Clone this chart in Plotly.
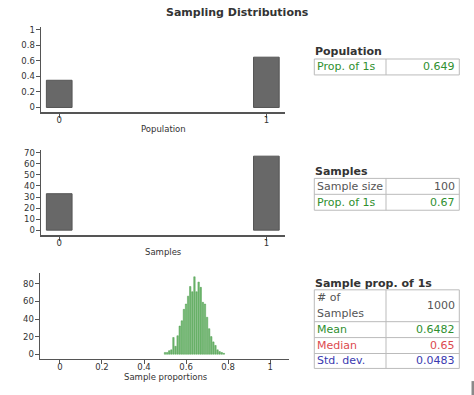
import plotly.graph_objects as go

W, H = 474, 395
FONT = "DejaVu Sans"

# ---------------- data ----------------
pop_values = [0, 1]
pop_props = [0.351, 0.649]
pop_prop_ones = 0.649

sample_values = [0, 1]
sample_counts = [33, 67]
sample_size = 100
sample_prop_ones = 0.67

hist_props = [0.50, 0.51, 0.52, 0.53, 0.54, 0.55, 0.56, 0.57, 0.58, 0.59,
              0.60, 0.61, 0.62, 0.63, 0.64, 0.65, 0.66, 0.67, 0.68, 0.69,
              0.70, 0.71, 0.72, 0.73, 0.74, 0.75, 0.76, 0.77, 0.78]
hist_counts = [2, 2, 4, 5, 19, 9, 21, 32, 38, 51,
               57, 66, 77, 71, 88, 71, 82, 76, 59, 57,
               42, 29, 20, 14, 10, 5, 3, 2, 1]
n_samples = 1000
mean_prop = 0.6482
median_prop = 0.65
sd_prop = 0.0483

# ---------------- helpers ----------------
def px(x):
    return x / W

def py(y):
    return 1 - y / H

# pixel layout of the three panels
P1 = dict(l=41, r=285, b=111, t=25, xr=[-0.088, 1.09], yr=[-0.064, 1.04])
P2 = dict(l=41, r=285, b=234.3, t=148.3, xr=[-0.088, 1.09], yr=[-4.5, 73])
P3 = dict(l=40, r=289, b=358.7, t=272.3, xr=[-0.095, 1.09], yr=[-5.3, 92.4])

def below(p, off_px):
    span = p["yr"][1] - p["yr"][0]
    return p["yr"][0] - off_px * span / (p["b"] - p["t"])

AX = "#555555"
TXT = "#333333"
GREEN = "#2f8f2f"
RED = "#dc4a4f"
BLUE = "#3a3ab0"
GRID_T = "#bbbbbb"

fig = go.Figure()

# panel 1: population
fig.add_trace(go.Bar(x=pop_values, y=pop_props, width=0.124,
                     marker=dict(color="#686868", line=dict(color="#555555", width=1)),
                     xaxis="x", yaxis="y", showlegend=False))
fig.add_trace(go.Scatter(x=[pop_prop_ones], y=[below(P1, 4.5)], mode="markers",
                         marker=dict(symbol="triangle-up", size=8, color="#0a7d0a"),
                         cliponaxis=False, xaxis="x", yaxis="y", showlegend=False))

# panel 2: samples
fig.add_trace(go.Bar(x=sample_values, y=sample_counts, width=0.124,
                     marker=dict(color="#686868", line=dict(color="#555555", width=1)),
                     xaxis="x2", yaxis="y2", showlegend=False))
fig.add_trace(go.Scatter(x=[sample_prop_ones], y=[below(P2, 4.2)], mode="markers",
                         marker=dict(symbol="triangle-up", size=8, color="#0a7d0a"),
                         cliponaxis=False, xaxis="x2", yaxis="y2", showlegend=False))

# panel 3: sampling distribution
fig.add_trace(go.Bar(x=hist_props, y=hist_counts, width=0.0068,
                     marker=dict(color="#72b872", line=dict(color="#4f9f4f", width=0.5)),
                     xaxis="x3", yaxis="y3", showlegend=False))
fig.add_trace(go.Scatter(x=[mean_prop - sd_prop, mean_prop + sd_prop],
                         y=[below(P3, 1.8)] * 2, mode="lines+markers",
                         line=dict(color="#2b2bd0", width=2),
                         marker=dict(symbol="line-ns-open", size=5, color="#2b2bd0",
                                     line=dict(color="#2b2bd0", width=1.5)),
                         cliponaxis=False, xaxis="x3", yaxis="y3", showlegend=False))
fig.add_trace(go.Scatter(x=[median_prop], y=[below(P3, 2.5)], mode="markers",
                         marker=dict(symbol="triangle-up", size=8, color="#e0584a"),
                         cliponaxis=False, xaxis="x3", yaxis="y3", showlegend=False))
fig.add_trace(go.Scatter(x=[mean_prop], y=[below(P3, 2.5)], mode="markers",
                         marker=dict(symbol="triangle-up", size=8, color="#f4b400"),
                         cliponaxis=False, xaxis="x3", yaxis="y3", showlegend=False))

def xax(p, tickvals, ticktext):
    return dict(domain=[px(p["l"]), px(p["r"])], range=p["xr"], showline=True,
                linecolor=AX, linewidth=1.5, ticks="outside", ticklen=4, tickcolor=AX,
                tickvals=tickvals, ticktext=ticktext, showgrid=False, zeroline=False,
                ticklabelstandoff=-5,
                tickfont=dict(family=FONT, size=8.5, color=TXT), fixedrange=True)

def yax(p, tickvals, anchor):
    return dict(domain=[py(p["b"]), py(p["t"])], range=p["yr"], showline=True,
                linecolor=AX, linewidth=1.5, ticks="outside", ticklen=4, tickcolor=AX,
                tickvals=tickvals, showgrid=False, zeroline=False, anchor=anchor,
                ticklabelstandoff=-1,
                tickfont=dict(family=FONT, size=8.5, color=TXT), fixedrange=True)

annotations = []
shapes = []

def text(x, y, s, size=11, color=TXT, anchor="left", bold=False):
    annotations.append(dict(x=px(x), y=py(y), xref="paper", yref="paper",
                            text=("<b>%s</b>" % s) if bold else s, showarrow=False,
                            xanchor=anchor, yanchor="middle",
                            font=dict(family=FONT, size=size, color=color)))

# title and axis titles
text(237, 11, "Sampling Distributions", size=11, anchor="center", bold=True)
text(163.3, 128, "Population", size=8.5, anchor="center")
text(163.3, 251.7, "Samples", size=8.5, anchor="center")
text(165.8, 376.7, "Sample proportions", size=8.5, anchor="center")

# tables
TL, TR, TD = 314.3, 459.3, 386

def table(header, header_y, top, rows):
    text(313, header_y, header, size=11, color=TXT, bold=True)
    heights = [r[0] for r in rows]
    bottom = top + sum(heights)
    shapes.append(dict(type="rect", xref="paper", yref="paper",
                       x0=px(TL), x1=px(TR), y0=py(bottom), y1=py(top),
                       line=dict(color=GRID_T, width=1)))
    shapes.append(dict(type="line", xref="paper", yref="paper",
                       x0=px(TD), x1=px(TD), y0=py(bottom), y1=py(top),
                       line=dict(color=GRID_T, width=1)))
    y = top
    for i, (h, labels, value, color) in enumerate(rows):
        if i > 0:
            shapes.append(dict(type="line", xref="paper", yref="paper",
                               x0=px(TL), x1=px(TR), y0=py(y), y1=py(y),
                               line=dict(color=GRID_T, width=1)))
        n = len(labels)
        for j, lab in enumerate(labels):
            ly = y + h / 2 + (j - (n - 1) / 2) * 16
            text(315, ly, lab, color=color)
        text(457, y + h / 2, value, color=color, anchor="right")
        y += h

table("Population", 50, 57.3,
      [(16, ["Prop. of 1s"], f"{pop_prop_ones:g}", GREEN)])
table("Samples", 170.5, 177.3,
      [(16, ["Sample size"], f"{sample_size}", "#555555"),
       (16, ["Prop. of 1s"], f"{sample_prop_ones:g}", GREEN)])
table("Sample prop. of 1s", 283, 289.3,
      [(32, ["# of", "Samples"], f"{n_samples}", "#555555"),
       (16, ["Mean"], f"{mean_prop:g}", GREEN),
       (16, ["Median"], f"{median_prop:g}", RED),
       (15, ["Std. dev."], f"{sd_prop:g}", BLUE)])

# small grey marker at bottom-right edge
shapes.append(dict(type="rect", xref="paper", yref="paper",
                   x0=px(471.5), x1=px(474), y0=py(395), y1=py(381),
                   line=dict(width=0), fillcolor="#8a8a8a"))

fig.update_layout(
    width=W, height=H, margin=dict(l=0, r=0, t=0, b=0),
    paper_bgcolor="white", plot_bgcolor="white", showlegend=False,
    bargap=0, hovermode=False,
    xaxis=xax(P1, [0, 1], ["0", "1"]) | dict(anchor="y"),
    yaxis=yax(P1, [0, 0.2, 0.4, 0.6, 0.8, 1], "x"),
    xaxis2=xax(P2, [0, 1], ["0", "1"]) | dict(anchor="y2"),
    yaxis2=yax(P2, [0, 10, 20, 30, 40, 50, 60, 70], "x2"),
    xaxis3=xax(P3, [0, 0.2, 0.4, 0.6, 0.8, 1], ["0", "0.2", "0.4", "0.6", "0.8", "1"]) | dict(anchor="y3"),
    yaxis3=yax(P3, [0, 20, 40, 60, 80], "x3"),
    annotations=annotations, shapes=shapes,
)

fig.write_html("out.html",
               config={"displayModeBar": False, "staticPlot": True},
               post_script="document.body.style.margin='0';document.body.style.overflow='hidden';")
